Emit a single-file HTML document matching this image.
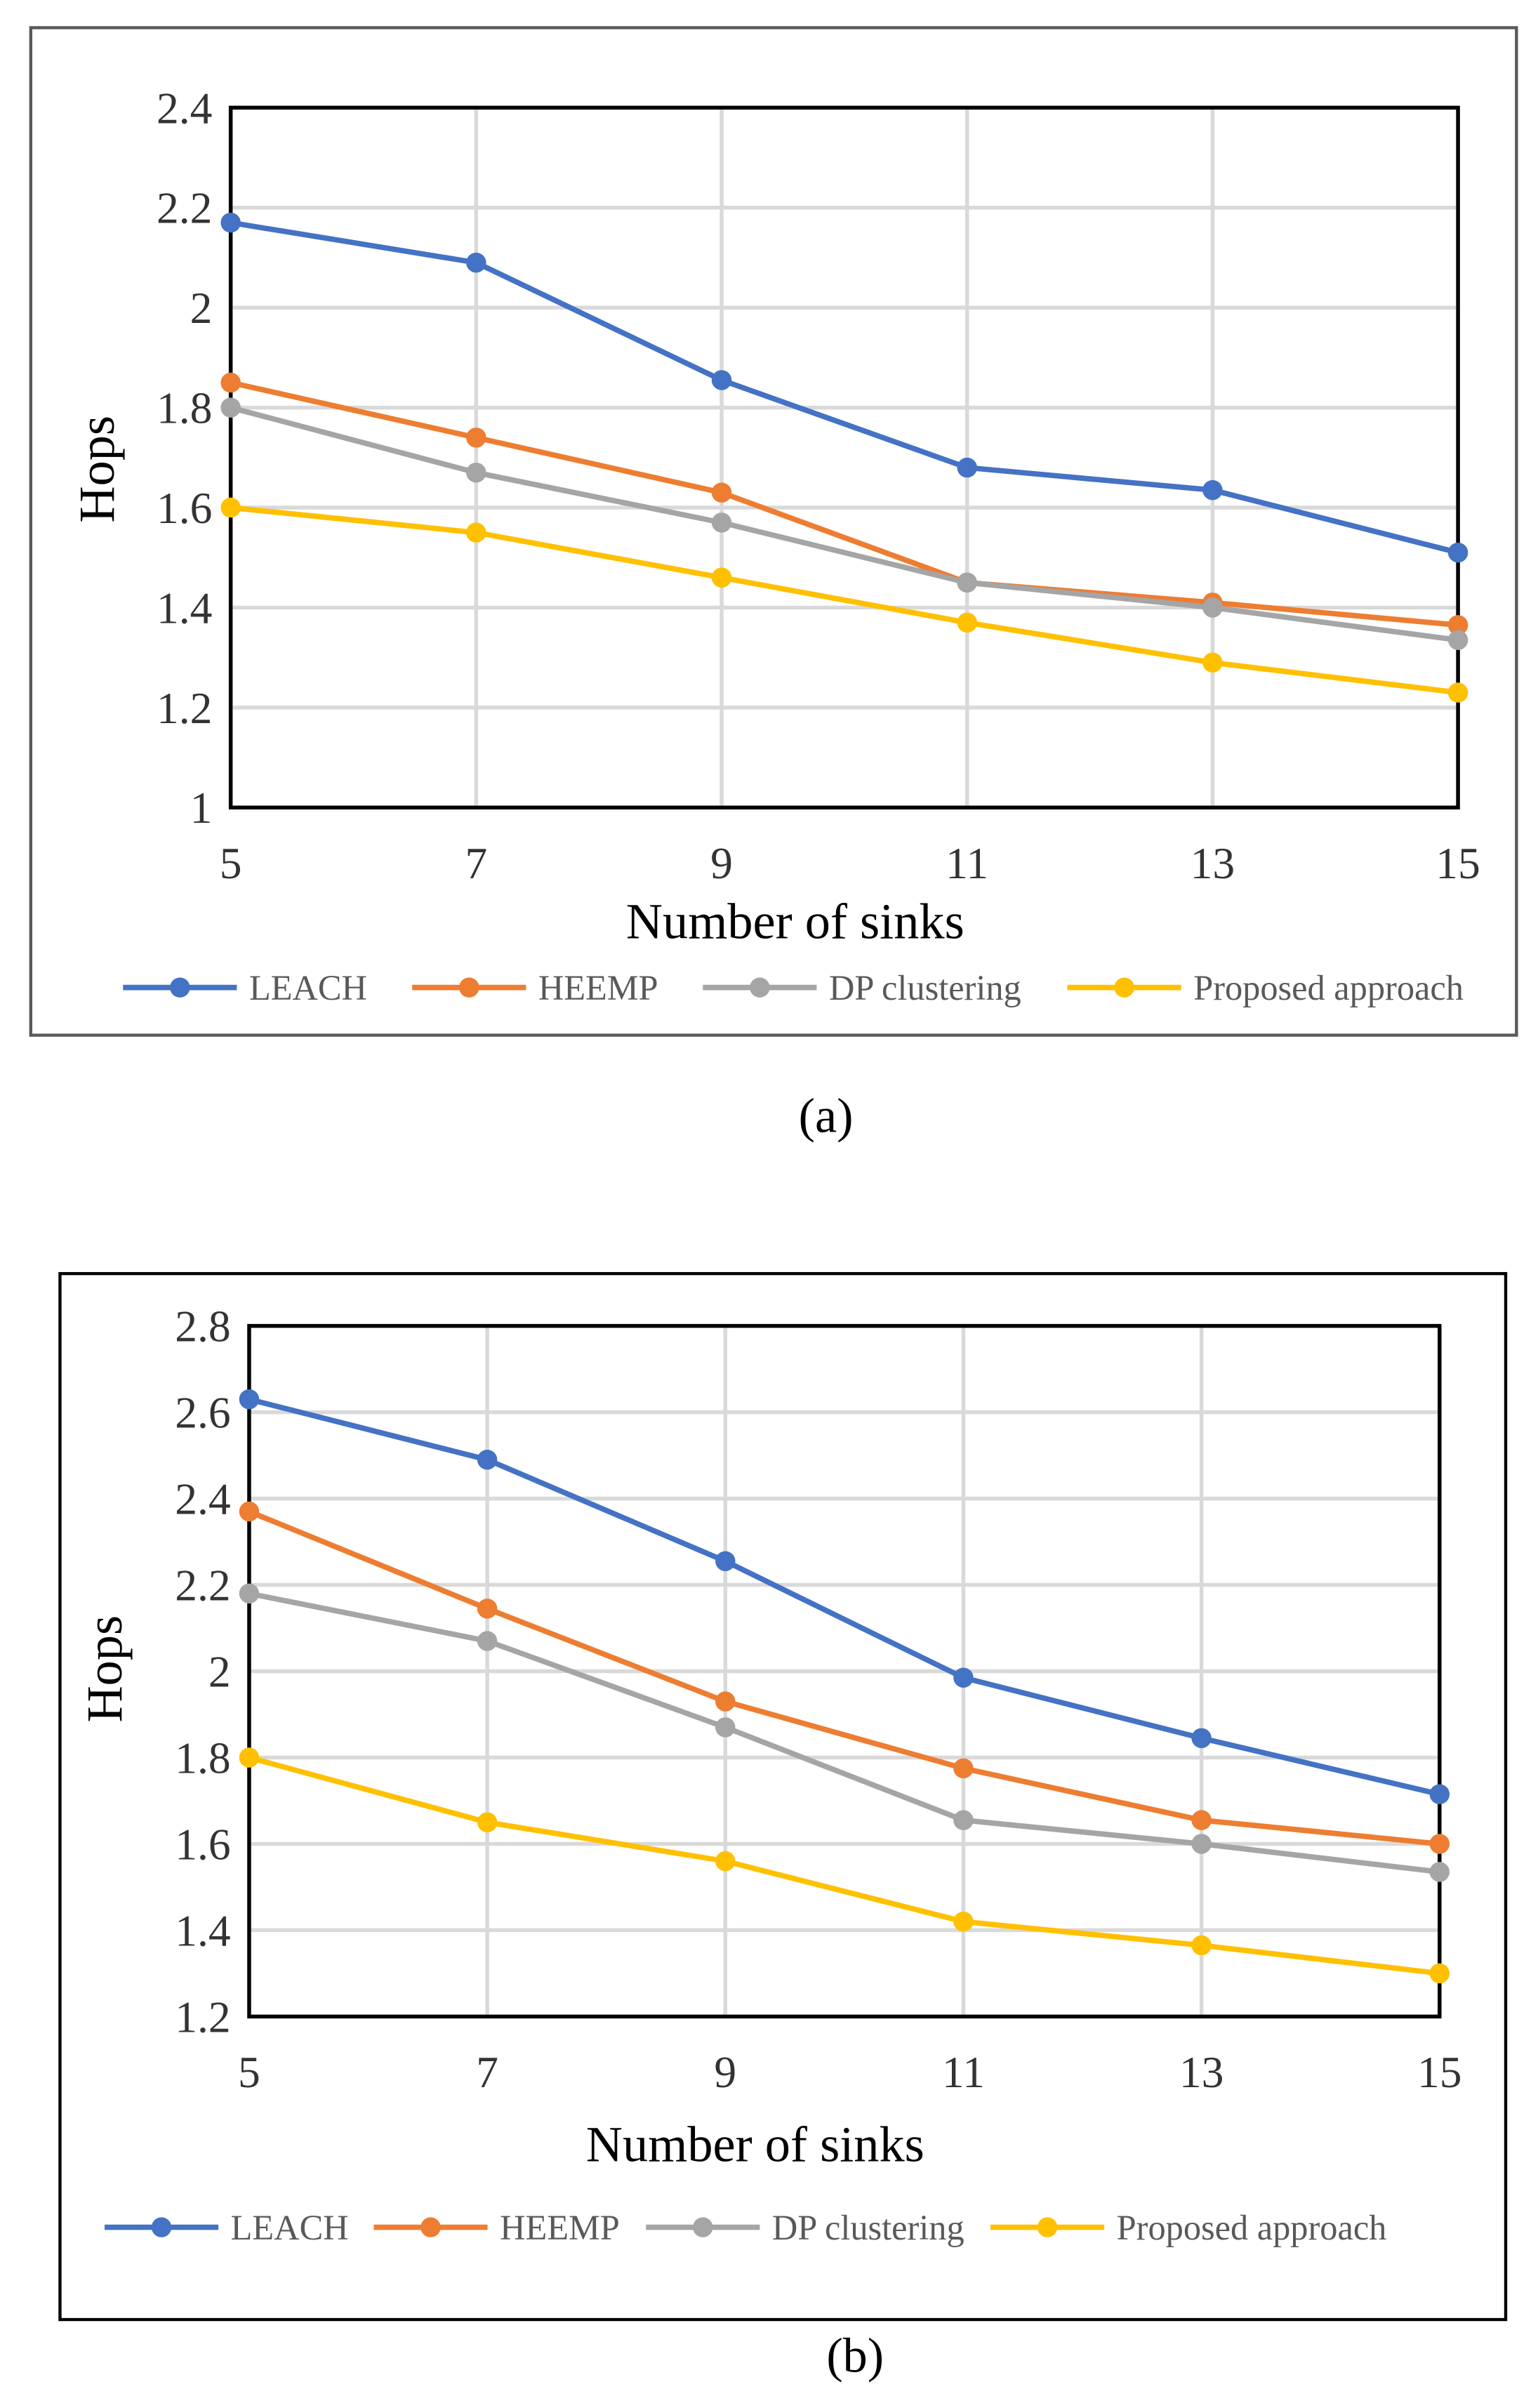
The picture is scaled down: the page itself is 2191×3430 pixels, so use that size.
<!DOCTYPE html>
<html><head><meta charset="utf-8"><style>
html,body{margin:0;padding:0;background:#fff;}
svg{display:block;font-family:"Liberation Serif",serif;}
</style></head><body>
<svg id="root" width="2191" height="3430" viewBox="0 0 1000 1565.5" xmlns="http://www.w3.org/2000/svg">
<rect x="20" y="18" width="966" height="655" fill="#fff" stroke="#595959" stroke-width="2"/>
<rect x="39" y="828" width="940" height="680" fill="#fff" stroke="#000" stroke-width="2"/>
<text x="537" y="736" font-size="32" text-anchor="middle">(a)</text>
<text x="556" y="1542" font-size="32" text-anchor="middle">(b)</text>
<g id="ga"></g>
<g id="gb"></g>
</svg>
<script>
const xCats = [5, 7, 9, 11, 13, 15];
const seriesNames = ["LEACH", "HEEMP", "DP clustering", "Proposed approach"];
const colors = ["#4472C4", "#ED7D31", "#A5A5A5", "#FFC000"];
const aTicks = ["1", "1.2", "1.4", "1.6", "1.8", "2", "2.2", "2.4"];
const aLeach = [2.17, 2.09, 1.855, 1.68, 1.635, 1.51];
const aHeemp = [1.85, 1.74, 1.63, 1.45, 1.41, 1.365];
const aDp = [1.80, 1.67, 1.57, 1.45, 1.40, 1.335];
const aProp = [1.60, 1.55, 1.46, 1.37, 1.29, 1.23];
const bTicks = ["1.2", "1.4", "1.6", "1.8", "2", "2.2", "2.4", "2.6", "2.8"];
const bLeach = [2.63, 2.49, 2.255, 1.985, 1.845, 1.715];
const bHeemp = [2.37, 2.145, 1.93, 1.775, 1.655, 1.60];
const bDp = [2.18, 2.07, 1.87, 1.655, 1.60, 1.535];
const bProp = [1.80, 1.65, 1.56, 1.42, 1.365, 1.30];

const NS = "http://www.w3.org/2000/svg";
function mk(parent, tag, attrs, text) {
  const e = document.createElementNS(NS, tag);
  for (const k in attrs) e.setAttribute(k, attrs[k]);
  if (text !== undefined) e.textContent = text;
  parent.appendChild(e);
  return e;
}
function draw(g, cfg, ticks, series) {
  const ymin = parseFloat(ticks[0]), ymax = parseFloat(ticks[ticks.length - 1]);
  const xs = v => cfg.x0 + (v - xCats[0]) / (xCats[xCats.length - 1] - xCats[0]) * (cfg.x1 - cfg.x0);
  const ys = v => cfg.y1 - (v - ymin) / (ymax - ymin) * (cfg.y1 - cfg.y0);
  ticks.forEach(t => {
    const y = ys(parseFloat(t));
    const l = mk(g, "line", {x1: cfg.x0, x2: cfg.x1, y1: y, y2: y, stroke: "#d9d9d9", "stroke-width": 2.5});
    
    
    const tx = mk(g, "text", {x: cfg.x0 - 12, y: y + 10, "font-size": 29, "text-anchor": "end", fill: "#333"}, t);
    
    
  });
  xCats.forEach(c => {
    const x = xs(c);
    const l = mk(g, "line", {x1: x, x2: x, y1: cfg.y0, y2: cfg.y1, stroke: "#d9d9d9", "stroke-width": 2.5});
    
    
    const tx = mk(g, "text", {x: x, y: cfg.y1 + 46, "font-size": 29, "text-anchor": "middle", fill: "#333"}, String(c));
    
    
  });
  const box = mk(g, "rect", {x: cfg.x0, y: cfg.y0, width: cfg.x1 - cfg.x0, height: cfg.y1 - cfg.y0, fill: "none", stroke: "#000", "stroke-width": 2.5});
  
  
  series.forEach((vals, i) => {
    const pts = vals.map((v, j) => xs(xCats[j]) + "," + ys(v)).join(" ");
    const pl = mk(g, "polyline", {points: pts, fill: "none", stroke: colors[i], "stroke-width": 3.5, "stroke-linejoin": "round"});
    
    
    vals.forEach((v, j) => {
      const c = mk(g, "circle", {cx: xs(xCats[j]), cy: ys(v), r: 6.5, fill: colors[i]});
      
      
    });
  });
  const xt = mk(g, "text", {x: cfg.xtX, y: cfg.xtY, "font-size": 33, "text-anchor": "middle"}, "Number of sinks");
  
  
  const yt = mk(g, "text", {x: 0, y: 0, "font-size": 33, "text-anchor": "middle", transform: "translate(" + cfg.ytX + "," + cfg.ytY + ") rotate(-90)"}, "Hops");
  
  
  cfg.leg.forEach((lx, i) => {
    const l = mk(g, "line", {x1: lx, x2: lx + 74, y1: cfg.legY, y2: cfg.legY, stroke: colors[i], "stroke-width": 3.5});
    
    
    const c = mk(g, "circle", {cx: lx + 37, cy: cfg.legY, r: 6.5, fill: colors[i]});
    
    
    const t = mk(g, "text", {x: lx + 82, y: cfg.legY + 8, "font-size": 23, fill: "#595959"}, seriesNames[i]);
    
    
  });
}
draw(document.getElementById("ga"),
  {x0: 150, x1: 948, y0: 70, y1: 525, xtX: 517, xtY: 610, ytX: 74, ytY: 305, legY: 642, leg: [80, 268, 457, 694]},
  aTicks, [aLeach, aHeemp, aDp, aProp]);
draw(document.getElementById("gb"),
  {x0: 162, x1: 936, y0: 862, y1: 1311, xtX: 491, xtY: 1405, ytX: 79, ytY: 1085, legY: 1448, leg: [68, 243, 420, 644]},
  bTicks, [bLeach, bHeemp, bDp, bProp]);
</script>
</body></html>
